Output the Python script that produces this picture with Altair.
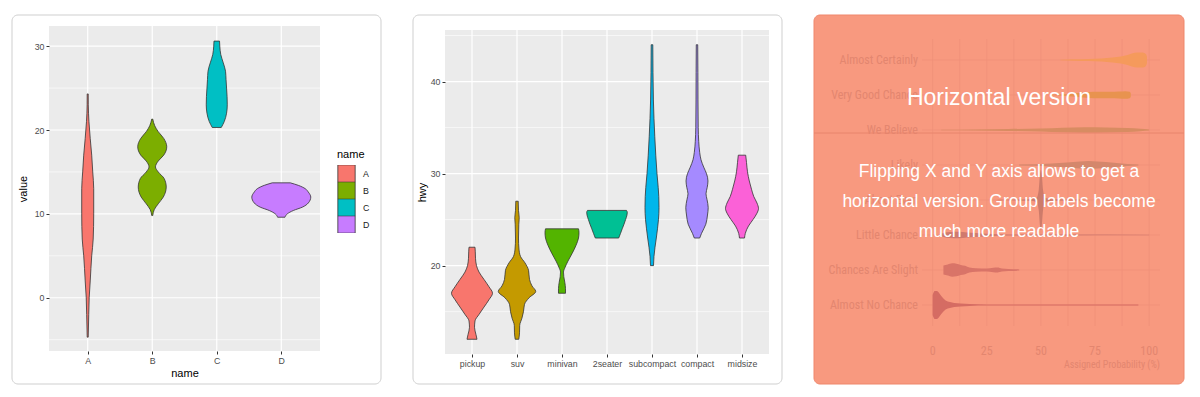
import altair as alt
import pandas as pd

FONT = "Liberation Sans"
NARROW = "Roboto Condensed, DejaVu Sans Condensed, Roboto"

# ---------------- Panel 1 : simple violin ----------------
p1_names = ["A", "B", "C", "D"]
p1_colors = ["#F8766D", "#7CAE00", "#00BFC4", "#C77CFF"]
p1_values = [
    [-4.7, -2, 0, 2, 5, 7, 10, 13, 15, 17, 19, 21, 23, 24.3],
    [9.8, 10.5, 11.2, 12, 13.2, 14.2, 15, 15.6, 16.3, 17, 18, 19, 19.8, 20.5, 21.3],
    [20.3, 21, 22, 23, 24, 25, 26, 27, 28, 29, 30, 30.6],
    [9.6, 10.0, 10.4, 10.8, 11.3, 12.0, 12.6, 13.0, 13.4, 13.7],
]
p1_halfwidths = [
    [0.008, 0.016, 0.023, 0.039, 0.062, 0.085, 0.093, 0.093, 0.078, 0.062, 0.039, 0.019, 0.009, 0.008],
    [0.008, 0.031, 0.093, 0.171, 0.217, 0.186, 0.093, 0.050, 0.093, 0.178, 0.225, 0.178, 0.093, 0.039, 0.008],
    [0.070, 0.116, 0.152, 0.163, 0.160, 0.152, 0.144, 0.136, 0.101, 0.062, 0.047, 0.043],
    [0.057, 0.093, 0.186, 0.326, 0.419, 0.457, 0.419, 0.372, 0.264, 0.140],
]
p1_y_major = [0, 10, 20, 30]
p1_y_minor = [-5, 5, 15, 25]

# ---------------- Panel 2 : mpg hwy by class ----------------
p2_names = ["pickup", "suv", "minivan", "2seater", "subcompact", "compact", "midsize"]
p2_colors = ["#F8766D", "#C49A00", "#53B400", "#00C094", "#00B6EB", "#A58AFF", "#FB61D7"]
p2_values = [
    [12, 12.5, 13.3, 14, 14.7, 15.5, 16.3, 17, 17.7, 18.5, 19.3, 20, 20.8, 21.5, 22],
    [12, 12.7, 13.5, 14.3, 15.0, 15.8, 16.5, 17.2, 17.8, 18.5, 19.5, 20.3, 21.0, 21.8, 23, 24.5, 25.2, 26, 27],
    [17, 17.5, 18.2, 18.8, 19.3, 19.8, 20.5, 21.3, 22.2, 23.0, 23.6, 24],
    [23, 23.5, 24, 24.5, 25, 25.5, 25.8, 26],
    [20, 21, 22, 23, 24, 25, 26.3, 27.5, 28.5, 30, 32, 34, 36, 38, 41, 44],
    [23, 23.5, 24.5, 25.5, 26.3, 27.2, 27.8, 28.5, 29.2, 30.0, 30.7, 31.5, 32.3, 33.5, 35, 38, 41, 44],
    [23, 23.5, 24.3, 25.0, 25.7, 26.2, 26.8, 27.5, 28.3, 29.2, 30.2, 31.2, 32],
]
p2_halfwidths = [
    [0.111, 0.089, 0.056, 0.067, 0.156, 0.267, 0.378, 0.456, 0.378, 0.267, 0.156, 0.100, 0.078, 0.073, 0.067],
    [0.040, 0.056, 0.060, 0.110, 0.144, 0.167, 0.267, 0.416, 0.333, 0.278, 0.256, 0.178, 0.078, 0.044, 0.033, 0.040, 0.049, 0.033, 0.027],
    [0.078, 0.078, 0.062, 0.040, 0.033, 0.067, 0.133, 0.222, 0.311, 0.367, 0.378, 0.367],
    [0.260, 0.300, 0.338, 0.378, 0.413, 0.444, 0.451, 0.433],
    [0.033, 0.044, 0.067, 0.096, 0.122, 0.144, 0.156, 0.151, 0.138, 0.111, 0.084, 0.062, 0.044, 0.031, 0.022, 0.018],
    [0.060, 0.100, 0.196, 0.233, 0.249, 0.222, 0.200, 0.227, 0.244, 0.211, 0.149, 0.089, 0.060, 0.038, 0.027, 0.022, 0.020, 0.016],
    [0.056, 0.073, 0.144, 0.244, 0.333, 0.367, 0.333, 0.262, 0.211, 0.162, 0.122, 0.100, 0.082],
]
p2_y_major = [20, 30, 40]
p2_y_minor = [15, 25, 35, 45]

# ---------------- Panel 3 : horizontal version (faded) ----------------
p3_names = ["Almost Certainly", "Very Good Chance", "We Believe", "Likely",
            "About Even", "Little Chance", "Chances Are Slight", "Almost No Chance"]
p3_colors = ["#F59A5C", "#E8934F", "#D88C62", "#D4876C", "#CD7B6A", "#D07A6E", "#D97468", "#D56C63"]
p3_values = [
    [59, 65, 72, 78, 83, 87, 90, 92, 94.5, 97, 98.5, 99],
    [55, 62, 67, 72, 77, 82, 86, 89, 91, 91.5],
    [4, 20, 35, 50, 60, 70, 80, 90, 96, 100],
    [40, 55, 62, 68, 72, 76, 80, 85, 90, 95],
    [30, 45, 48, 49, 49.6, 50, 50.4, 51, 52, 55, 70],
    [3, 5, 8, 12, 16, 20, 25, 35, 60, 100],
    [5, 7, 9, 11, 13, 15, 17, 20, 25, 28, 30, 32, 35, 40],
    [0, 1, 2, 3, 4, 5, 6, 8, 10, 13, 17, 25, 50, 80, 95],
]
p3_halfwidths = [
    [0.009, 0.020, 0.029, 0.043, 0.071, 0.100, 0.143, 0.186, 0.214, 0.214, 0.171, 0.086],
    [0.009, 0.029, 0.060, 0.085, 0.095, 0.090, 0.100, 0.110, 0.090, 0.050],
    [0.009, 0.017, 0.029, 0.043, 0.066, 0.080, 0.071, 0.057, 0.034, 0.014],
    [0.014, 0.043, 0.071, 0.100, 0.114, 0.100, 0.086, 0.057, 0.029, 0.011],
    [0.009, 0.023, 0.057, 0.286, 0.743, 0.857, 0.743, 0.286, 0.057, 0.023, 0.009],
    [0.014, 0.057, 0.086, 0.091, 0.071, 0.057, 0.034, 0.017, 0.011, 0.009],
    [0.129, 0.157, 0.191, 0.180, 0.143, 0.120, 0.071, 0.051, 0.043, 0.063, 0.071, 0.043, 0.029, 0.017],
    [0.286, 0.400, 0.400, 0.343, 0.257, 0.186, 0.129, 0.086, 0.057, 0.043, 0.029, 0.017, 0.014, 0.014, 0.011],
]
p3_x_ticks = [0, 25, 50, 75, 100]
p3_x_grid = [0, 12.5, 25, 37.5, 50, 62.5, 75, 87.5, 100]
p3_x_title = "Assigned Probability (%)"
overlay_title = "Horizontal version"
overlay_lines = ["Flipping X and Y axis allows to get a",
                 "horizontal version. Group labels become",
                 "much more readable"]

CARD_H = 369
one = pd.DataFrame({"k": [0]})


def violin_df(names, values, halfwidths):
    rows = []
    for k, (name, vals, hws) in enumerate(zip(names, values, halfwidths)):
        pos = k + 1
        for v, w in zip(vals, hws):
            rows.append({"group": name, "v": v, "lo": pos - w, "hi": pos + w})
    return pd.DataFrame(rows)


def label_expr(names, offset):
    return "[" + ",".join("'" + n + "'" for n in names) + "][datum.value - " + str(offset) + "]"


def ggplot_panel(names, colors, values, halfwidths, y_dom, y_major, y_minor,
                 W, top, ph, cx1, cx2, x_title, y_title, legend, ytp):
    df = violin_df(names, values, halfwidths)
    n = len(names)
    H = top + ph
    xs = alt.Scale(domain=[0.4, n + 0.6], nice=False, zero=False)
    ys = alt.Scale(domain=y_dom, nice=False, zero=False, range=[H, top])
    xa = alt.Axis(values=list(range(1, n + 1)), labelExpr=label_expr(names, 1),
                  title=x_title, grid=False, domain=False, ticks=True, tickSize=3,
                  tickColor="#333333", tickWidth=1, labelColor="#4D4D4D", labelFontSize=8.8,
                  labelPadding=2, labelOverlap=False, titleFontSize=11, titleFontWeight="normal",
                  titleColor="#000000", titlePadding=3, zindex=1, labelFont=FONT, titleFont=FONT)
    ya = alt.Axis(values=y_major, title=y_title, grid=False, domain=False, ticks=True,
                  tickSize=3, tickColor="#333333", tickWidth=1, labelColor="#4D4D4D",
                  labelFontSize=8.8, labelPadding=2, labelOverlap=False, titleFontSize=11,
                  titleFontWeight="normal", titleColor="#000000", titlePadding=ytp, zindex=1,
                  labelFont=FONT, titleFont=FONT)
    card_l = alt.Chart(one).mark_rect(fill="white", stroke="#CFCFCF", strokeWidth=1,
                                      cornerRadius=6).encode(
        x=alt.value(cx1), x2=alt.value(cx2), y=alt.value(0), y2=alt.value(CARD_H))
    panel = alt.Chart(one).mark_rect(fill="#EBEBEB").encode(
        x=alt.value(0), x2=alt.value(W), y=alt.value(top), y2=alt.value(H))
    gminor = alt.Chart(pd.DataFrame({"g": y_minor})).mark_rule(
        color="white", strokeWidth=0.6).encode(y=alt.Y("g:Q", scale=ys, axis=ya))
    gmajor = alt.Chart(pd.DataFrame({"g": y_major})).mark_rule(
        color="white", strokeWidth=1.2).encode(y=alt.Y("g:Q", scale=ys, axis=ya))
    gx = alt.Chart(pd.DataFrame({"g": list(range(1, n + 1))})).mark_rule(
        color="white", strokeWidth=1.2).encode(
        x=alt.X("g:Q", scale=xs, axis=xa), y=alt.value(top), y2=alt.value(H))
    if legend:
        leg = alt.Legend(orient="none", legendX=W + 17, legendY=134, title="name",
                         titleFontSize=11, titleFontWeight="normal", titleColor="#000000",
                         titleFont=FONT, labelFont=FONT, labelFontSize=8.8, labelColor="#1A1A1A",
                         symbolType="square", symbolSize=300, symbolStrokeColor="#333333",
                         symbolStrokeWidth=0.8, rowPadding=0, clipHeight=17, labelOffset=7,
                         titlePadding=5)
    else:
        leg = None
    area = alt.Chart(df).mark_area(stroke="#333333", strokeWidth=0.8, orient="horizontal",
                                   interpolate="monotone", opacity=1).encode(
        y=alt.Y("v:Q", scale=ys, axis=ya),
        x=alt.X("lo:Q", scale=xs, axis=xa),
        x2="hi:Q",
        color=alt.Color("group:N", scale=alt.Scale(domain=names, range=colors), legend=leg),
    )
    return alt.layer(card_l, panel, gminor, gmajor, gx, area).properties(width=W, height=H)


panel1 = ggplot_panel(p1_names, p1_colors, p1_values, p1_halfwidths, [-6.35, 32.4],
                      p1_y_major, p1_y_minor, 271, 11, 325, -37, 332, "name", "value", True, 6)
panel2 = ggplot_panel(p2_names, p2_colors, p2_values, p2_halfwidths, [10.4, 45.6],
                      p2_y_major, p2_y_minor, 324, 15, 324, -32, 337, None, "hwy", False, 3)

# ---------------- Panel 3 ----------------
W3, TOP3, PH3 = 238, 24, 287
H3 = TOP3 + PH3
BG3 = "#F8997F"
FAINT = "#EF8F78"
LBL3 = "#E3866F"
xs3 = alt.Scale(domain=[-4.9, 105], nice=False, zero=False)
ys3 = alt.Scale(domain=[-0.6, len(p3_names) - 0.4], nice=False, zero=False, range=[TOP3, H3])

rows3 = []
for k, (name, vals, hws) in enumerate(zip(p3_names, p3_values, p3_halfwidths)):
    for v, w in zip(vals, hws):
        rows3.append({"group": name, "v": v, "lo": k - w, "hi": k + w})
df3 = pd.DataFrame(rows3)

card3 = alt.Chart(one).mark_rect(fill=BG3, stroke="#EF876C", strokeWidth=1, cornerRadius=6).encode(
    x=alt.value(-108), x2=alt.value(262), y=alt.value(0), y2=alt.value(CARD_H))
gx3 = alt.Chart(pd.DataFrame({"g": p3_x_grid})).mark_rule(color=FAINT, strokeWidth=0.7).encode(
    x=alt.X("g:Q", scale=xs3, axis=None), y=alt.value(TOP3), y2=alt.value(H3))
gy3 = alt.Chart(pd.DataFrame({"g": list(range(len(p3_names)))})).mark_rule(
    color=FAINT, strokeWidth=0.7).encode(y=alt.Y("g:Q", scale=ys3, axis=None))
area3 = alt.Chart(df3).mark_area(orient="vertical", interpolate="monotone", opacity=1).encode(
    x=alt.X("v:Q", scale=xs3, axis=None),
    y=alt.Y("lo:Q", scale=ys3, axis=None),
    y2="hi:Q",
    color=alt.Color("group:N", scale=alt.Scale(domain=p3_names, range=p3_colors), legend=None),
)
ylab3 = alt.Chart(pd.DataFrame({"name": p3_names, "r": list(range(len(p3_names)))})).mark_text(
    align="right", baseline="middle", font=NARROW, fontSize=12, color=LBL3).encode(
    x=alt.value(-4), y=alt.Y("r:Q", scale=ys3, axis=None), text="name:N")
xlab3 = alt.Chart(pd.DataFrame({"t": p3_x_ticks})).mark_text(
    align="center", baseline="middle", font=NARROW, fontSize=12, color=LBL3).encode(
    x=alt.X("t:Q", scale=xs3, axis=None), y=alt.value(336), text="t:Q")
xtitle3 = alt.Chart(pd.DataFrame({"s": [p3_x_title]})).mark_text(
    align="right", baseline="middle", font=NARROW, fontSize=10, color=LBL3).encode(
    x=alt.value(W3), y=alt.value(350), text="s:N")
hline3 = alt.Chart(one).mark_rule(color="#E8846C", strokeWidth=1).encode(
    x=alt.value(-108), x2=alt.value(262), y=alt.value(118))
otitle = alt.Chart(pd.DataFrame({"s": [overlay_title]})).mark_text(
    align="center", baseline="alphabetic", font=FONT, fontSize=23, color="white").encode(
    x=alt.value(77), y=alt.value(90), text="s:N")
obody = alt.Chart(pd.DataFrame({"s": ["\n".join(overlay_lines)]})).mark_text(
    align="center", baseline="alphabetic", font=FONT, fontSize=17.5, color="white",
    lineBreak="\n", lineHeight=30).encode(
    x=alt.value(77), y=alt.value(162), text="s:N")

panel3 = alt.layer(card3, gx3, gy3, area3, ylab3, xlab3, xtitle3, hline3, otitle, obody).properties(
    width=W3, height=H3)

chart = alt.hconcat(panel1, panel2, panel3, spacing=30).resolve_scale(
    x="independent", y="independent", color="independent"
).properties(
    padding={"left": 3, "top": 6, "right": 0, "bottom": 0}
).configure_view(stroke=None).configure(font=FONT, background="white")

chart.save("out.html", embed_options={"renderer": "svg", "actions": False})
